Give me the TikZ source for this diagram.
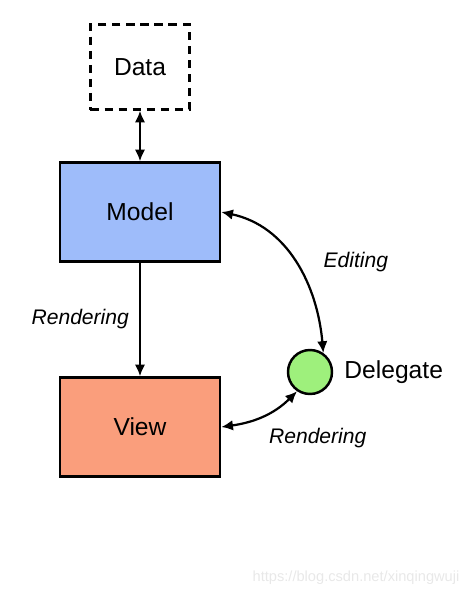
\documentclass[tikz,border=0pt]{standalone}
\usepackage{fontspec}
\setmainfont{Liberation Sans}
\usepackage{xcolor}
\usepackage{tikz}
\usetikzlibrary{positioning,arrows.meta}
\definecolor{modelblue}{RGB}{158,188,250}
\definecolor{viewred}{RGB}{250,158,124}
\definecolor{delegreen}{RGB}{158,240,124}
\tikzset{
  box/.style={draw,line width=2.1pt,minimum width=4.8cm,minimum height=2.97cm,font=\fontsize{21}{25}\selectfont},
  conn/.style={line width=1.9pt,{Latex[length=10pt,width=9pt]}-{Latex[length=10pt,width=9pt]}},
  lbl/.style={font=\fontsize{18}{22}\selectfont\itshape,inner sep=0pt}
}
\begin{document}
\begin{tikzpicture}[x=0.03cm,y=-0.03cm]
  \useasboundingbox (0,0) rectangle (474,594);
  \node[box,dash pattern=on 7pt off 5pt,minimum width=2.97cm,minimum height=2.55cm] (data) at (140,67) {Data};
  \node[box,fill=modelblue] (model) at (140,212) {Model};
  \node[box,fill=viewred] (view) at (140,427) {View};
  \node[circle,draw,line width=2.1pt,fill=delegreen,minimum size=1.32cm,inner sep=0pt] (deleg) at (310,372) {};
  \node[right=11*0.03cm of deleg.east,anchor=west,inner sep=0pt,font=\fontsize{21}{25}\selectfont] (delegtxt) {Delegate};
  % connectors
  \draw[conn] (data) -- (model);
  \draw[conn,-{Latex[length=10pt,width=9pt]}] (model) -- node[lbl,left=10*0.03cm] (rendl) {Rendering} (view);
  \draw[conn] (model.east) to[out=-12,in=95] node[lbl,pos=0.42,right=36*0.03cm,yshift=-0.33cm] (edit) {Editing} (deleg.55);
  \draw[conn] (view.east) to[out=8,in=225] node[lbl,pos=0.75,below right=14*0.03cm and 0pt,xshift=-0.36cm,yshift=-0.21cm] (rendr) {Rendering} (deleg.236);
  \node[font=\fontsize{12.5}{15}\selectfont,text=gray!18,inner sep=0pt] (wm) at (356,578) {https://blog.csdn.net/xinqingwuji};
\end{tikzpicture}
\end{document}
